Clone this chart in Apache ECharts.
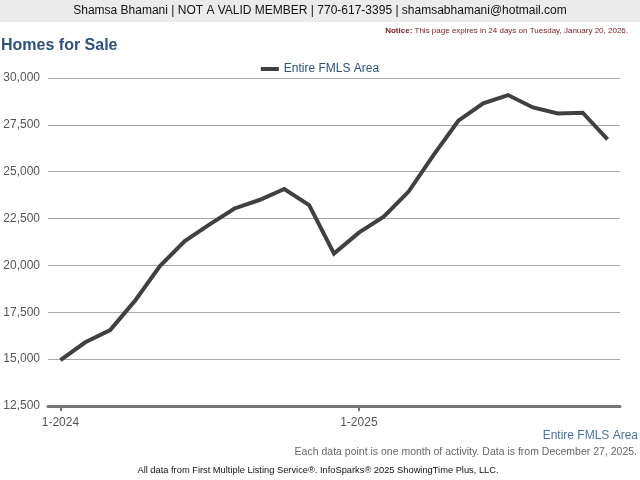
<!DOCTYPE html>
<html>
<head>
<meta charset="utf-8">
<script src="https://cdn.jsdelivr.net/npm/echarts@6/dist/echarts.min.js"></script>
<style>
html,body{margin:0;padding:0;background:#fff;}
#c{width:640px;height:480px;}
</style>
</head>
<body>
<div id="c"></div>
<script>
var categories = ['1-2024','2-2024','3-2024','4-2024','5-2024','6-2024','7-2024','8-2024','9-2024','10-2024','11-2024','12-2024',
  '1-2025','2-2025','3-2025','4-2025','5-2025','6-2025','7-2025','8-2025','9-2025','10-2025','11-2025'];
var homesForSale = [14950,15900,16550,18120,19970,21300,22190,23040,23490,24080,23220,20630,
  21750,22600,23940,25890,27720,28650,29090,28430,28110,28150,26730];
var yTicks = {min:12500, max:30000, interval:2500};
var seriesName = 'Entire FMLS Area';

var chart = echarts.init(document.getElementById('c'));
var font = 'Liberation Sans, Arial, sans-serif';
chart.setOption({
  backgroundColor:'#ffffff',
  animation:false,
  title:{
    text:'Homes for Sale', left:1, top:38, padding:0,
    textStyle:{fontFamily:font, fontSize:16, fontWeight:'bold', color:'#2d5178'}
  },
  legend:{
    data:[seriesName], top:58, left:'center',
    itemWidth:18, itemHeight:4, itemGap:6,
    icon:'rect',
    textStyle:{fontFamily:font, fontSize:12, color:'#2d5178'}
  },
  graphic:[
    {type:'rect', shape:{x:0,y:0,width:640,height:22}, style:{fill:'#ebebeb'}, z:-1},
    {type:'text', x:320, y:11, style:{text:'Shamsa Bhamani | NOT A VALID MEMBER | 770-617-3395 | shamsabhamani@hotmail.com', font:'12px '+font, fill:'#111', textAlign:'center', textVerticalAlign:'middle'}},
    {type:'text', x:628, y:31, style:{rich:{b:{font:'bold 8px '+font, fill:'#7a1a1a'}, n:{font:'8px '+font, fill:'#7a1a1a'}}, text:'{b|Notice:}{n| This page expires in 24 days on Tuesday, January 20, 2026.}', textAlign:'right', textVerticalAlign:'middle'}},
    {type:'text', x:638, y:436, style:{text:'Entire FMLS Area', font:'12px '+font, fill:'#4a72a0', textAlign:'right', textVerticalAlign:'middle'}},
    {type:'text', x:637, y:452, style:{text:'Each data point is one month of activity. Data is from December 27, 2025.', font:'10.5px '+font, fill:'#666', textAlign:'right', textVerticalAlign:'middle'}},
    {type:'text', x:318, y:470, style:{text:'All data from First Multiple Listing Service®. InfoSparks® 2025 ShowingTime Plus, LLC.', font:'9.3px '+font, fill:'#111', textAlign:'center', textVerticalAlign:'middle'}}
  ],
  grid:{left:48, right:20, top:78, bottom:74, containLabel:false},
  xAxis:{
    type:'category', data:categories, boundaryGap:true,
    axisLine:{lineStyle:{color:'#777', width:3}},
    axisTick:{show:true, alignWithLabel:true, length:5, interval:function(i){return i%12===0;}, lineStyle:{color:'#777', width:2}},
    axisLabel:{interval:function(i){return i%12===0;}, fontFamily:font, fontSize:12, color:'#555', margin:11},
    splitLine:{show:false}
  },
  yAxis:{
    type:'value', min:yTicks.min, max:yTicks.max, interval:yTicks.interval,
    axisLine:{show:false}, axisTick:{show:false},
    axisLabel:{fontFamily:font, fontSize:12, color:'#555', margin:8,
      formatter:function(v){return v.toLocaleString('en-US');}},
    splitLine:{lineStyle:{color:'#aaa', width:1}}
  },
  series:[{
    name:seriesName, type:'line', data:homesForSale,
    showSymbol:false, symbol:'none',
    lineStyle:{color:'#404040', width:4, join:'miter'},
    itemStyle:{color:'#404040'}
  }]
});
</script>
</body>
</html>
